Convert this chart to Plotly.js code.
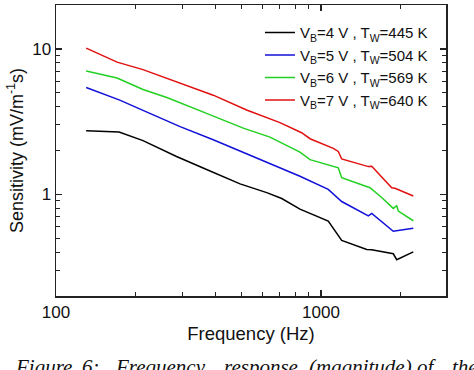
<!DOCTYPE html>
<html>
<head>
<meta charset="utf-8">
<script src="https://cdn.plot.ly/plotly-3.0.1.min.js"></script>
<style>html,body{margin:0;padding:0;background:#fff;}#chart{width:474px;height:370px;}</style>
</head>
<body>
<div id="chart"></div>
<script>
// Series data (frequency in Hz, sensitivity in mV/m^-1 s)
var freq4 = [130, 173, 213, 285, 370, 495, 624, 711, 833, 1065, 1197, 1488, 1554, 1874, 1931, 2230];
var sens4 = [2.73, 2.68, 2.34, 1.82, 1.48, 1.18, 1.027, 0.935, 0.79, 0.654, 0.482, 0.417, 0.415, 0.39, 0.355, 0.402];

var freq5 = [130, 174, 226, 294, 392, 509, 642, 833, 1065, 1197, 1509, 1554, 1874, 1987, 2230];
var sens5 = [5.42, 4.44, 3.60, 2.92, 2.37, 1.94, 1.64, 1.33, 1.08, 0.892, 0.711, 0.739, 0.557, 0.568, 0.584];

var freq6 = [130, 170, 213, 262, 370, 509, 642, 833, 909, 1113, 1162, 1197, 1531, 1694, 1874, 1931, 1958, 2230];
var sens6 = [7.04, 6.30, 5.25, 4.63, 3.60, 2.85, 2.47, 1.95, 1.73, 1.56, 1.52, 1.30, 1.11, 0.95, 0.80, 0.835, 0.766, 0.658];

var freq7 = [130, 170, 213, 294, 392, 524, 700, 845, 909, 1113, 1162, 1197, 1509, 1554, 1849, 1902, 2230];
var sens7 = [10.1, 8.10, 7.19, 5.77, 4.80, 3.80, 3.11, 2.65, 2.41, 2.07, 1.97, 1.75, 1.55, 1.56, 1.11, 1.10, 0.974];

var seriesNames = [
  'V<sub>B</sub>=4 V , T<sub>W</sub>=445 K',
  'V<sub>B</sub>=5 V , T<sub>W</sub>=504 K',
  'V<sub>B</sub>=6 V , T<sub>W</sub>=569 K',
  'V<sub>B</sub>=7 V , T<sub>W</sub>=640 K'
];
var seriesColors = ['#000000', '#1010d8', '#22d022', '#e01010'];

var xs = [freq4, freq5, freq6, freq7];
var ys = [sens4, sens5, sens6, sens7];

var traces = xs.map(function (x, i) {
  return {
    x: x, y: ys[i], type: 'scatter', mode: 'lines',
    name: seriesNames[i],
    line: {color: seriesColors[i], width: 1.5}
  };
});

var captionWords = ['Figure', '6:', 'Frequency', 'response', '(magnitude)', 'of', 'the'];
var captionX = [-0.1103, 0.0615, 0.146, 0.4256, 0.6436, 0.9205, 1.0103];

var annotations = captionWords.map(function (w, i) {
  return {
    text: w, xref: 'paper', yref: 'paper', x: captionX[i], y: -0.196,
    xanchor: 'left', yanchor: 'top', showarrow: false,
    font: {family: 'Liberation Serif', size: 21, color: '#111', style: 'italic'}
  };
});

var fontSans = 'Liberation Sans, Arial';

var layout = {
  width: 474, height: 370,
  margin: {l: 56, r: 28, t: 5, b: 74},
  showlegend: true,
  legend: {
    x: 0.523, y: 0.961, xanchor: 'left', yanchor: 'top',
    bgcolor: 'rgba(0,0,0,0)', borderwidth: 0,
    font: {family: fontSans, size: 15, color: '#111'}
  },
  xaxis: {
    type: 'log', range: [2, Math.log10(2963)],
    showgrid: false, zeroline: false,
    showline: true, linecolor: '#222', linewidth: 1.5, mirror: 'allticks',
    ticks: 'inside', ticklen: 6, tickwidth: 1.5, tickcolor: '#222',
    dtick: 1,
    tickfont: {family: fontSans, size: 17, color: '#111'},
    minor: {dtick: 'D1', ticks: 'inside', ticklen: 4, tickwidth: 1, tickcolor: '#222'},
    title: {text: 'Frequency (Hz)', font: {family: fontSans, size: 18.5, color: '#111'}, standoff: 6}
  },
  yaxis: {
    type: 'log', range: [Math.log10(0.2), Math.log10(20)],
    showgrid: false, zeroline: false,
    showline: true, linecolor: '#222', linewidth: 1.5, mirror: 'allticks',
    ticks: 'inside', ticklen: 6, tickwidth: 1.5, tickcolor: '#222',
    dtick: 1,
    tickfont: {family: fontSans, size: 17, color: '#111'},
    minor: {dtick: 'D1', ticks: 'inside', ticklen: 4, tickwidth: 1, tickcolor: '#222'},
    title: {text: 'Sensitivity (mV/m<sup>-1</sup>s)', font: {family: fontSans, size: 18, color: '#111'}, standoff: 4}
  },
  annotations: annotations
};

Plotly.newPlot('chart', traces, layout, {displayModeBar: false, staticPlot: true});
</script>
</body>
</html>
